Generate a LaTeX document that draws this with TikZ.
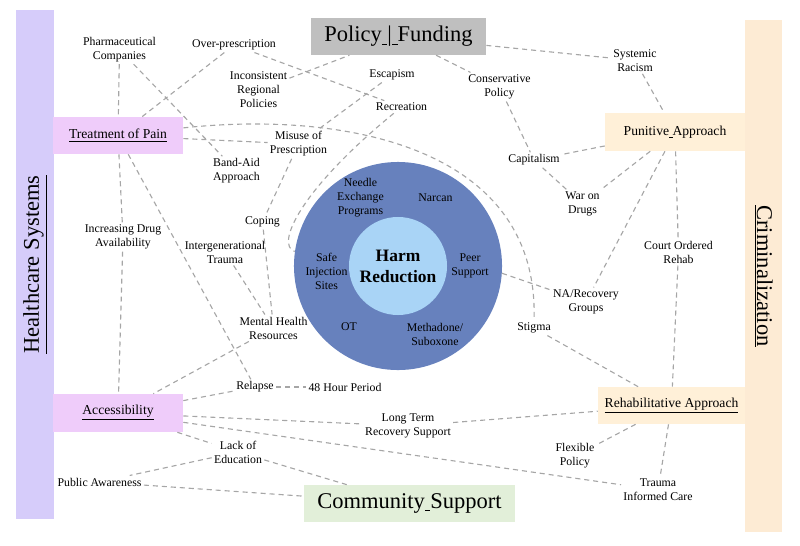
\documentclass[tikz,border=0pt]{standalone}
\usepackage{fontspec}
\setmainfont{Liberation Serif}
\usetikzlibrary{shapes,positioning,calc}

\definecolor{hcpurple}{HTML}{D6CCFA}
\definecolor{painpink}{HTML}{EFCCFA}
\definecolor{polgray}{HTML}{BFBFBF}
\definecolor{crimpeach}{HTML}{FDEBD4}
\definecolor{punpeach}{HTML}{FFF0D8}
\definecolor{commgreen}{HTML}{E2EFD9}
\definecolor{ringblue}{HTML}{6781BD}
\definecolor{coreblue}{HTML}{A9D4F6}
\definecolor{linkgray}{HTML}{A6A6A6}

\newcommand{\usp}{\underline{\ }}

\begin{document}
\begin{tikzpicture}[x=0.025cm, y=-0.025cm,
  lbl/.style={align=center, inner sep=1.5pt, font=\fontsize{8.4}{9.9}\selectfont},
  box/.style={inner sep=0pt, font=\fontsize{9.7}{11.5}\selectfont},
  bigbox/.style={inner sep=0pt, font=\fontsize{16}{19}\selectfont},
  link/.style={draw=linkgray, line width=0.8pt, dash pattern=on 3.6pt off 2.8pt}]
\useasboundingbox (0,0) rectangle (800,545);

% side bars and main boxes
\node[bigbox, fill=hcpurple, rotate=90, minimum width=12.725cm, minimum height=0.95cm] (health) at (35,264.5) {\underline{Healthcare Systems}};
\node[bigbox, fill=crimpeach, rotate=-90, minimum width=12.8cm, minimum height=0.925cm] (crim) at (763.5,276) {\underline{Criminalization}};
\node[bigbox, fill=polgray, minimum width=4.375cm, minimum height=0.925cm] (policy) at (398.5,36.5) {Policy\usp|\usp Funding};
\node[bigbox, fill=commgreen, minimum width=5.275cm, minimum height=0.925cm] (community) at (409.5,503.5) {Community\usp Support};
\node[box, fill=painpink, minimum width=3.25cm, minimum height=0.925cm] (pain) at (118,135.5) {\underline{Treatment of Pain}};
\node[box, fill=painpink, minimum width=3.25cm, minimum height=0.95cm] (access) at (118,413) {\underline{Accessibility}};
\node[box, fill=punpeach, minimum width=3.5cm, minimum height=0.95cm] (punitive) at (675,132) {Punitive\usp Approach};
\node[box, fill=punpeach, minimum width=3.675cm, minimum height=0.925cm] (rehab) at (671.5,405.5) {\underline{Rehabilitative Approach}};

% harm reduction
\node[circle, fill=ringblue, minimum size=5.2cm, inner sep=0pt] (ring) at (398,266) {};
\node[circle, fill=coreblue, minimum size=2.45cm, inner sep=0pt, align=center, font=\bfseries\fontsize{12.4}{14.9}\selectfont] (core) at (398,266) {Harm\\Reduction};
\node[lbl] (needle) at (360.5,198) {Needle\\Exchange\\Programs};
\node[lbl] (narcan) at (435.5,198) {Narcan};
\node[lbl] (safe) at (326.5,271) {Safe\\Injection\\Sites};
\node[lbl] (peer) at (470,266) {Peer\\Support};
\node[lbl] (ot) at (349,327) {OT};
\node[lbl] (metha) at (435,334) {Methadone/\\Suboxone};

% labels
\node[lbl] (pharma) at (119.5,49.5) {Pharmaceutical\\Companies};
\node[lbl] (overpre) at (234,45) {Over-prescription};
\node[lbl] (incons) at (258.5,90) {Inconsistent\\Regional\\Policies};
\node[lbl] (escap) at (392,75) {Escapism};
\node[lbl] (recre) at (401.5,107) {Recreation};
\node[lbl] (conserv) at (499.5,87) {Conservative\\Policy};
\node[lbl] (racism) at (635,60.5) {Systemic\\Racism};
\node[lbl] (misuse) at (298.5,144) {Misuse of\\Prescription};
\node[lbl] (bandaid) at (236.5,171) {Band-Aid\\Approach};
\node[lbl] (capital) at (534,160) {Capitalism};
\node[lbl] (war) at (582.5,204) {War on\\Drugs};
\node[lbl] (coping) at (262.5,222) {Coping};
\node[lbl] (incdrug) at (123,237) {Increasing Drug\\Availability};
\node[lbl] (intergen) at (225,252) {Intergenerational\\Trauma};
\node[lbl] (court) at (678.5,252) {Court Ordered\\Rehab};
\node[lbl] (narec) at (586,302) {NA/Recovery\\Groups};
\node[lbl] (mental) at (273.5,328) {Mental Health\\Resources};
\node[lbl] (stigma) at (534,328) {Stigma};
\node[lbl] (relapse) at (255,387) {Relapse};
\node[lbl] (hour48) at (345,387) {48 Hour Period};
\node[lbl] (ltrs) at (408,426) {Long Term\\Recovery Support};
\node[lbl] (lackedu) at (238,452) {Lack of\\Education};
\node[lbl] (flex) at (575,456) {Flexible\\Policy};
\node[lbl] (public) at (99.5,482) {Public Awareness};
\node[lbl] (tic) at (658,490) {Trauma\\Informed Care};

% links
\path[link] (pharma) edge (pain);
\path[link] (pharma) edge (bandaid);
\path[link] (overpre) edge (pain);
\path[link] (overpre) edge (recre);
\path[link] (incons) edge (policy);
\path[link] (escap) edge (misuse);
\path[link] (policy) edge (conserv);
\path[link] (conserv) edge (capital);
\path[link] (policy) edge (racism);
\path[link] (racism) edge (punitive);
\path[link] (punitive) edge (capital);
\path[link] (capital) edge (war);
\path[link] (punitive) edge (war);
\path[link] (punitive) edge (narec);
\path[link] (punitive) edge (court);
\path[link] (court) edge (rehab);
\path[link] (stigma) edge (rehab);
\path[link] (ring.-4) edge (narec);
\path[link] (pain) edge (misuse);
\path[link] (misuse) edge (coping);
\path[link] (coping) edge (mental);
\path[link] (intergen) edge (mental);
\path[link] (pain) edge (incdrug);
\path[link] (incdrug) edge (access);
\path[link] (pain) edge (relapse);
\path[link] (mental) edge (access);
\path[link] (access) edge (relapse);
\path[link] (relapse) edge (hour48);
\path[link] (access) edge (ltrs);
\path[link] (ltrs) edge (rehab);
\path[link] (access) edge (tic);
\path[link] (access) edge (lackedu);
\path[link] (lackedu) edge (public);
\path[link] (lackedu) edge (community);
\path[link] (public) edge (community);
\path[link] (rehab) edge (flex);
\path[link] (rehab) edge (tic);
\path[link] ([yshift=0.19cm]pain.east) .. controls (350,110) and (540,150) .. (stigma.north);
\path[link] (recre) .. controls (300,190) and (275,245) .. (ring.172);
\end{tikzpicture}
\end{document}
